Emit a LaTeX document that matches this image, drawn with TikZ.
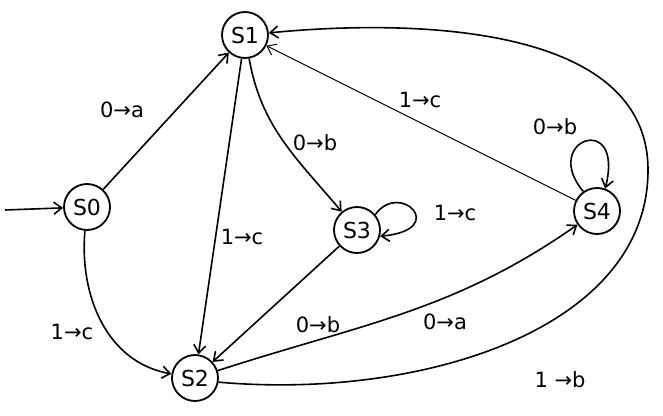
\documentclass[tikz,border=0pt]{standalone}
\usepackage{fontspec}
\setmainfont{DejaVu Sans}
\usetikzlibrary{arrows.meta}
\begin{document}
\begin{tikzpicture}[x=1pt,y=-1pt,
  st/.style={draw,line width=1.8pt,circle,minimum size=46pt,inner sep=0pt,font=\fontsize{22}{24}\selectfont},
  ed/.style={line width=1.6pt,-{Straight Barb[length=8pt,width=12pt]}},
  thinl/.style={line width=1pt,-{Straight Barb[length=8pt,width=12pt]}},
  lb/.style={font=\fontsize{21}{24}\selectfont}]
\useasboundingbox (0,0) rectangle (663,415);
\node[st] (s0) at (87,207) {S0};
\node[st] (s1) at (245,35) {S1};
\node[st] (s2) at (195,378) {S2};
\node[st] (s3) at (357,230) {S3};
\node[st] (s4) at (597,211) {S4};
\coordinate (in) at (5,210);
\draw[ed] (in) -- (s0);
\draw[ed] (s0) -- (s1);
\node[lb] at (122,110) {0→a};
\draw[ed] (s0) to[out=-95,in=170] (s2);
\node[lb] at (72,332) {1→c};
\draw[ed] (s1) -- (s2);
\node[lb] at (242,237) {1→c};
\draw[ed] (s1) to[out=-80,in=130] (s3);
\node[lb] at (315,143) {0→b};
\draw[ed] (s3.40) .. controls (400,180) and (450,230) .. (s3.-15);
\node[lb] at (455,213) {1→c};
\draw[ed] (s4.125) .. controls (540,140) and (625,110) .. (s4.70);
\node[lb] at (555,127) {0→b};
\draw[thinl] (s4) -- (s1);
\node[lb] at (420,100) {1→c};
\draw[ed] (s3) -- (s2);
\node[lb] at (318,325) {0→b};
\draw[ed] (s2) to[out=18,in=-145] (s4);
\node[lb] at (445,322) {0→a};
\draw[ed] (s2.-10) .. controls (420,400) and (648,330) .. (648,170) .. controls (648,20) and (400,20) .. (s1.5);
\node[lb] at (560,380) {1 →b};
\end{tikzpicture}
\end{document}
